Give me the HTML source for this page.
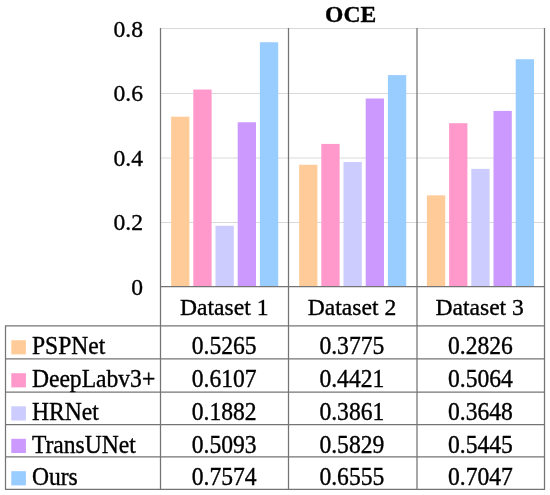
<!DOCTYPE html><html><head><meta charset="utf-8"><style>html,body{margin:0;padding:0;background:#fff;overflow:hidden;}svg{display:block;}text{font-family:"Liberation Serif","Times New Roman",serif;font-size:23.6px;fill:#000;stroke:#000;stroke-width:0.35px;}</style></head><body>
<svg xmlns="http://www.w3.org/2000/svg" width="550" height="495" viewBox="0 0 550 495">
<rect width="550" height="495" fill="#fff"/>
<line x1="160.5" y1="222.50" x2="544.5" y2="222.50" stroke="#d9d9d9" stroke-width="1"/>
<line x1="160.5" y1="158.00" x2="544.5" y2="158.00" stroke="#d9d9d9" stroke-width="1"/>
<line x1="160.5" y1="93.50" x2="544.5" y2="93.50" stroke="#d9d9d9" stroke-width="1"/>
<line x1="160.5" y1="28.50" x2="544.5" y2="28.50" stroke="#d9d9d9" stroke-width="1"/>
<rect x="171.10" y="116.70" width="18.3" height="169.80" fill="#FFCC99"/>
<rect x="193.30" y="89.55" width="18.3" height="196.95" fill="#FF99CC"/>
<rect x="215.50" y="225.81" width="18.3" height="60.69" fill="#CCCCFF"/>
<rect x="237.70" y="122.25" width="18.3" height="164.25" fill="#CC99FF"/>
<rect x="259.90" y="42.24" width="18.3" height="244.26" fill="#99CCFF"/>
<rect x="299.10" y="164.76" width="18.3" height="121.74" fill="#FFCC99"/>
<rect x="321.30" y="143.92" width="18.3" height="142.58" fill="#FF99CC"/>
<rect x="343.50" y="161.98" width="18.3" height="124.52" fill="#CCCCFF"/>
<rect x="365.70" y="98.51" width="18.3" height="187.99" fill="#CC99FF"/>
<rect x="387.90" y="75.10" width="18.3" height="211.40" fill="#99CCFF"/>
<rect x="426.90" y="195.36" width="18.3" height="91.14" fill="#FFCC99"/>
<rect x="449.10" y="123.19" width="18.3" height="163.31" fill="#FF99CC"/>
<rect x="471.30" y="168.85" width="18.3" height="117.65" fill="#CCCCFF"/>
<rect x="493.50" y="110.90" width="18.3" height="175.60" fill="#CC99FF"/>
<rect x="515.70" y="59.23" width="18.3" height="227.27" fill="#99CCFF"/>
<line x1="160.5" y1="28.0" x2="160.5" y2="489.80" stroke="#747474" stroke-width="1.25"/>
<line x1="288.5" y1="28.0" x2="288.5" y2="489.80" stroke="#747474" stroke-width="1.25"/>
<line x1="417.0" y1="28.0" x2="417.0" y2="489.80" stroke="#747474" stroke-width="1.25"/>
<line x1="544.5" y1="28.0" x2="544.5" y2="489.80" stroke="#747474" stroke-width="1.25"/>
<line x1="160.5" y1="286.5" x2="544.5" y2="286.5" stroke="#747474" stroke-width="1.25"/>
<line x1="5.0" y1="325.90" x2="545.0" y2="325.90" stroke="#747474" stroke-width="1.25"/>
<line x1="5.0" y1="358.90" x2="545.0" y2="358.90" stroke="#747474" stroke-width="1.25"/>
<line x1="5.0" y1="392.00" x2="545.0" y2="392.00" stroke="#747474" stroke-width="1.25"/>
<line x1="5.0" y1="424.50" x2="545.0" y2="424.50" stroke="#747474" stroke-width="1.25"/>
<line x1="5.0" y1="456.90" x2="545.0" y2="456.90" stroke="#747474" stroke-width="1.25"/>
<line x1="5.0" y1="489.30" x2="545.0" y2="489.30" stroke="#747474" stroke-width="1.25"/>
<line x1="5.5" y1="325.9" x2="5.5" y2="489.80" stroke="#747474" stroke-width="1.25"/>
<text transform="translate(350.60 22.30) scale(1 0.97)" text-anchor="middle" font-weight="bold">OCE</text>
<text transform="translate(143.00 294.60) scale(1 1.0)" text-anchor="end">0</text>
<text transform="translate(143.00 230.20) scale(1 1.0)" text-anchor="end">0.2</text>
<text transform="translate(143.00 165.80) scale(1 1.0)" text-anchor="end">0.4</text>
<text transform="translate(143.00 101.40) scale(1 1.0)" text-anchor="end">0.6</text>
<text transform="translate(143.00 37.00) scale(1 1.0)" text-anchor="end">0.8</text>
<text transform="translate(224.20 315.00) scale(1 1.0)" text-anchor="middle">Dataset 1</text>
<text transform="translate(351.95 315.00) scale(1 1.0)" text-anchor="middle">Dataset 2</text>
<text transform="translate(479.65 315.00) scale(1 1.0)" text-anchor="middle">Dataset 3</text>
<rect x="11.3" y="340.20" width="14.6" height="14.2" fill="#FFCC99"/>
<text transform="translate(31.90 353.90) scale(1 1.03)">PSPNet</text>
<text transform="translate(224.20 353.90) scale(1 1.03)" text-anchor="middle">0.5265</text>
<text transform="translate(351.85 353.90) scale(1 1.03)" text-anchor="middle">0.3775</text>
<text transform="translate(480.45 353.90) scale(1 1.03)" text-anchor="middle">0.2826</text>
<rect x="11.3" y="373.20" width="14.6" height="14.2" fill="#FF99CC"/>
<text transform="translate(31.90 386.90) scale(1 1.03)">DeepLabv3+</text>
<text transform="translate(224.20 386.90) scale(1 1.03)" text-anchor="middle">0.6107</text>
<text transform="translate(351.85 386.90) scale(1 1.03)" text-anchor="middle">0.4421</text>
<text transform="translate(480.45 386.90) scale(1 1.03)" text-anchor="middle">0.5064</text>
<rect x="11.3" y="406.30" width="14.6" height="14.2" fill="#CCCCFF"/>
<text transform="translate(31.90 420.00) scale(1 1.03)">HRNet</text>
<text transform="translate(224.20 420.00) scale(1 1.03)" text-anchor="middle">0.1882</text>
<text transform="translate(351.85 420.00) scale(1 1.03)" text-anchor="middle">0.3861</text>
<text transform="translate(480.45 420.00) scale(1 1.03)" text-anchor="middle">0.3648</text>
<rect x="11.3" y="438.80" width="14.6" height="14.2" fill="#CC99FF"/>
<text transform="translate(31.90 452.50) scale(1 1.03)">TransUNet</text>
<text transform="translate(224.20 452.50) scale(1 1.03)" text-anchor="middle">0.5093</text>
<text transform="translate(351.85 452.50) scale(1 1.03)" text-anchor="middle">0.5829</text>
<text transform="translate(480.45 452.50) scale(1 1.03)" text-anchor="middle">0.5445</text>
<rect x="11.3" y="471.20" width="14.6" height="14.2" fill="#99CCFF"/>
<text transform="translate(31.90 484.90) scale(1 1.03)">Ours</text>
<text transform="translate(224.20 484.90) scale(1 1.03)" text-anchor="middle">0.7574</text>
<text transform="translate(351.85 484.90) scale(1 1.03)" text-anchor="middle">0.6555</text>
<text transform="translate(480.45 484.90) scale(1 1.03)" text-anchor="middle">0.7047</text>
</svg></body></html>
